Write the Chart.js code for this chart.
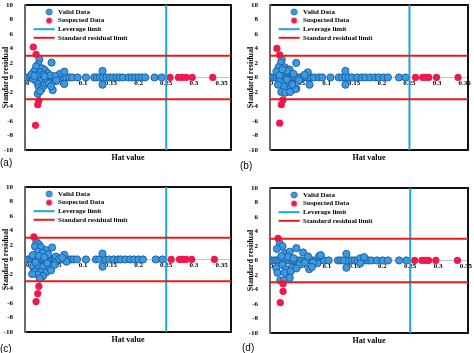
<!DOCTYPE html>
<html>
<head>
<meta charset="utf-8">
<script src="https://cdn.jsdelivr.net/npm/chart.js@4.4.1/dist/chart.umd.min.js"></script>
<style>
  body { margin: 0; background: #fff; width: 474px; height: 353px; position: relative; overflow: hidden; }
  canvas { position: absolute; }
  .tag { position: absolute; font: 10px "Liberation Sans", Arial, sans-serif; color: #000; }
</style>
</head>
<body>
<canvas id="chartA" width="237" height="176" style="left:0;top:0"></canvas>
<canvas id="chartB" width="229" height="176" style="left:245px;top:0"></canvas>
<canvas id="chartC" width="237" height="176" style="left:0;top:182px"></canvas>
<canvas id="chartD" width="229" height="176" style="left:245px;top:183px"></canvas>
<div class="tag" style="left:0;top:157px">(a)</div>
<div class="tag" style="left:240px;top:160px">(b)</div>
<div class="tag" style="left:0;top:343px">(c)</div>
<div class="tag" style="left:242px;top:342px">(d)</div>
<script>

// ---- data ----

const X_TICKS = [0, 0.05, 0.1, 0.15, 0.2, 0.25, 0.3, 0.35];
const LEVERAGE_LIMIT = 0.25;
const RESIDUAL_LIMIT = 3;

// (a)
const validHatA = [
   0, 0.004, 0.008, 0.012, 0.016, 0.02, 0.024, 0.028, 0.032, 0.036, 0.04, 0.044, 0.048, 0.052,
   0.056, 0.06, 0.064, 0.069, 0.075, 0.08, 0.09, 0.105, 0.12, 0.125, 0.13, 0.136, 0.142, 0.148,
   0.154, 0.16, 0.166, 0.172, 0.182, 0.188, 0.194, 0.2, 0.206, 0.212, 0.229, 0.242,
   0.021, 0.043, 0.019, 0.015, 0.026, 0.031, 0.011, 0.022, 0.036, 0.007, 0.018, 0.028, 0.041,
   0.058, 0.066, 0.05, 0.014, 0.024, 0.033, 0.018, 0.029, 0.038, 0.02, 0.025, 0.045, 0.018,
   0.066, 0.052, 0.135, 0.135, 0.01, 0.042, 0.022, 0.03, 0.012
];
const validResA = [
   0, 0, 0, 0, 0, 0, 0, 0, 0, 0, 0, 0, 0, 0,
   0, 0, 0, 0, 0, 0, 0, 0, 0, 0, 0, 0, 0, 0,
   0, 0, 0, 0, 0, 0, 0, 0, 0, 0, 0, 0,
   2.5, 2.05, 1.8, 1.5, 1.25, 1.0, 0.8, 0.7, 0.6, 0.4, 0.3, 0.4, 0.3,
   0.5, 0.8, 0.2, -0.4, -0.5, -0.6, -0.9, -1.1, -0.8, -1.35, -1.6, -1.75, -2.25,
   -0.9, -0.4, 0.9, -1.0, -0.2, -1.2, -1.9, 0.15, 0.2
];
const suspHatA = [0.010, 0.015, 0.020, 0.018, 0.014, 0.257, 0.272, 0.279, 0.286, 0.297, 0.334];
const suspResA = [4.2, 3.2, -3.2, -3.75, -6.6, 0, 0, 0, 0, 0, 0];

// (b)
const validHatB = [
   0, 0.005, 0.009, 0.013, 0.017, 0.021, 0.025, 0.029, 0.033, 0.037, 0.041, 0.045, 0.05, 0.054,
   0.058, 0.063, 0.067, 0.072, 0.077, 0.086, 0.092, 0.107, 0.122, 0.128, 0.134, 0.14, 0.146,
   0.155, 0.164, 0.17, 0.179, 0.188, 0.194, 0.203, 0.211, 0.231, 0.243,
   0.019, 0.017, 0.045, 0.013, 0.024, 0.033, 0.009, 0.02, 0.028, 0.04, 0.066, 0.06, 0.015,
   0.015, 0.03, 0.022, 0.034, 0.018, 0.025, 0.045, 0.069, 0.043, 0.034, 0.012, 0.05,
   0.134, 0.134, 0.028, 0.038, 0.02
];
const validResB = [
   0, 0, 0, 0, 0, 0, 0, 0, 0, 0, 0, 0, 0, 0,
   0, 0, 0, 0, 0, 0, 0, 0, 0, 0, 0, 0, 0,
   0, 0, 0, 0, 0, 0, 0, 0, 0, 0,
   2.45, 2.0, 2.0, 1.4, 1.4, 1.1, 0.8, 0.7, 0.9, 0.5, 0.7, 0.35, 0.3,
   -0.6, -0.85, -1.3, -1.5, -2.0, -2.1, -1.55, -1.0, -1.6, -2.0, -1.0, -0.4,
   0.9, -1.0, -0.3, -1.0, 1.1
];
const suspHatB = [0.010, 0.015, 0.021, 0.018, 0.015, 0.261, 0.274, 0.279, 0.285, 0.299, 0.338];
const suspResB = [4.0, 3.1, -3.1, -3.75, -6.3, 0, 0, 0, 0, 0, 0];

// (c)
const validHatC = [
   0, 0.004, 0.008, 0.012, 0.016, 0.02, 0.024, 0.028, 0.032, 0.036, 0.04, 0.044, 0.048, 0.053,
   0.058, 0.063, 0.068, 0.073, 0.078, 0.083, 0.089, 0.105, 0.123, 0.129, 0.14, 0.147, 0.155,
   0.163, 0.168, 0.176, 0.185, 0.192, 0.2, 0.208, 0.231, 0.243,
   0.0155, 0.02, 0.013, 0.024, 0.044, 0.033, 0.018, 0.027, 0.009, 0.037, 0.02, 0.03, 0.051,
   0.066, 0.05, 0.057, 0.0095, 0.018, 0.028, 0.039, 0.048, 0.012, 0.024, 0.033, 0.018,
   0.0275, 0.0215, 0.014, 0.035, 0.135, 0.135, 0.042, 0.07, 0.062, 0.008
];
const validResC = [
   0, 0, 0, 0, 0, 0, 0, 0, 0, 0, 0, 0, 0, 0,
   0, 0, 0, 0, 0, 0, 0, 0, 0, 0, 0, 0, 0,
   0, 0, 0, 0, 0, 0, 0, 0, 0,
   2.4, 2.1, 1.8, 1.7, 1.65, 1.3, 1.1, 0.9, 0.6, 0.7, 0.5, 0.3, 0.4,
   0.65, -0.4, 0.1, -1.0, -0.8, -1.0, -1.2, -0.75, -1.65, -1.7, -1.8, -2.1,
   -2.3, -2.65, -0.4, -0.5, 0.8, -1.0, -1.5, -0.3, 0.25, -2.0
];
const suspHatC = [0.011, 0.020, 0.018, 0.015, 0.259, 0.274, 0.280, 0.286, 0.296, 0.337];
const suspResC = [3.1, -3.7, -4.7, -5.8, 0, 0, 0, 0, 0, 0];

// (d)
const validHatD = [
   0, 0.005, 0.009, 0.013, 0.018, 0.022, 0.027, 0.031, 0.036, 0.04, 0.045, 0.05, 0.054, 0.06,
   0.065, 0.07, 0.075, 0.08, 0.087, 0.095, 0.103, 0.12, 0.125, 0.13, 0.14, 0.145, 0.15, 0.155,
   0.165, 0.17, 0.175, 0.18, 0.19, 0.2, 0.21, 0.23, 0.243,
   0.015, 0.02, 0.01, 0.045, 0.024, 0.033, 0.057, 0.066, 0.086, 0.089, 0.03, 0.04, 0.018,
   0.083, 0.075, 0.009, 0.02, 0.026, 0.037, 0.05, 0.011, 0.024, 0.035, 0.033, 0.016,
   0.022, 0.068, 0.073, 0.135, 0.135, 0.16, 0.16, 0.167, 0.045, 0.06
];
const validResD = [
   0, 0, 0, 0, 0, 0, 0, 0, 0, 0, 0, 0, 0, 0,
   0, 0, 0, 0, 0, 0, 0, 0, 0, 0, 0, 0, 0, 0,
   0, 0, 0, 0, 0, 0, 0, 0, 0,
   2.35, 1.95, 1.6, 1.7, 1.0, 1.2, 1.1, 0.55, 0.6, 0.75, 0.5, 0.3, 0.6,
   -0.4, -0.3, -1.05, -0.6, -1.2, -1.0, -0.6, -1.7, -1.7, -1.5, -2.4, -2.75,
   -2.75, -1.2, -0.9, 0.9, -1.0, 0.3, -0.4, 0.45, -1.1, -0.3
];
const suspHatD = [0.012, 0.021, 0.021, 0.016, 0.258, 0.271, 0.277, 0.283, 0.296, 0.335];
const suspResD = [3.05, -3.2, -4.25, -5.8, 0, 0, 0, 0, 0, 0];

// ---- drawing ----

const SERIF = '"Liberation Serif", "Times New Roman", serif';
const BLUE_FILL = '#3a9ae2';
const BLUE_EDGE = '#1c5c9c';
const RED_DOT = '#ee1a4c';
const RED_LINE = '#e81c1c';
const CYAN_LINE = '#1ba5d9';

function toPoints(xs, ys){
   return xs.map((x, i) => ({ x: x, y: ys[i] }));
}

// legend symbol for the two point series (circle sits right of centre, like the figure)
function legendDot(fill, edge){
   let c = document.createElement('canvas');
   c.width = 21;
   c.height = 8;
   let g = c.getContext('2d');
   g.beginPath();
   g.arc(15.5, 4, 3, 0, Math.PI * 2);
   g.fillStyle = fill;
   g.fill();
   if(edge){
      g.lineWidth = 0.8;
      g.strokeStyle = edge;
      g.stroke();
   }
   return c;
}

const dotValid = legendDot(BLUE_FILL, BLUE_EDGE);
const dotSusp = legendDot(RED_DOT, null);

const framePlugin = {
   id: 'frame',
   afterLayout(chart){
      let a = chart.chartArea;
      if(chart.legend){
         chart.legend.left = a.left + 7;
         chart.legend.top = a.top + 2;
      }
   },
   beforeDatasetsDraw(chart){
      let ctx = chart.ctx, a = chart.chartArea;
      ctx.save();
      ctx.lineWidth = 2;
      ctx.strokeStyle = '#111';
      ctx.beginPath();
      ctx.moveTo(a.left, a.top);
      ctx.lineTo(a.right, a.top);
      ctx.lineTo(a.right, a.bottom);
      ctx.lineTo(a.left, a.bottom);
      ctx.stroke();
      ctx.strokeStyle = '#6a6a6a';
      ctx.beginPath();
      ctx.moveTo(a.left, a.top - 1);
      ctx.lineTo(a.left, a.bottom + 1);
      ctx.stroke();
      ctx.restore();
   }
};

function makeChart(id, xMin, xMax, vHat, vRes, sHat, sRes){

   let boldFont = size => ({ family: SERIF, size: size, weight: 'bold' });

   return new Chart(document.getElementById(id), {

      type: 'scatter',

      data: {
         datasets: [
            {
               label: 'Valid Data',
               data: toPoints(vHat, vRes),
               backgroundColor: BLUE_FILL,
               borderColor: BLUE_EDGE,
               borderWidth: 0.9,
               pointRadius: 3.6,
               order: 3
            },
            {
               label: 'Suspected Data',
               data: toPoints(sHat, sRes),
               backgroundColor: RED_DOT,
               borderColor: RED_DOT,
               borderWidth: 0,
               pointRadius: 3.6,
               order: 2
            },
            {
               label: 'Leverage limit',
               data: [{ x: LEVERAGE_LIMIT, y: -10 }, { x: LEVERAGE_LIMIT, y: 10 }],
               showLine: true,
               borderColor: CYAN_LINE,
               backgroundColor: CYAN_LINE,
               borderWidth: 2,
               pointRadius: 0,
               pointStyle: 'line',
               order: 1
            },
            {
               label: 'Standard residual limit',
               data: [{ x: xMin, y: RESIDUAL_LIMIT }, { x: xMax, y: RESIDUAL_LIMIT }],
               showLine: true,
               borderColor: RED_LINE,
               backgroundColor: RED_LINE,
               borderWidth: 2,
               pointRadius: 0,
               pointStyle: 'line',
               order: 0
            },
            {
               label: '',
               data: [{ x: xMin, y: -RESIDUAL_LIMIT }, { x: xMax, y: -RESIDUAL_LIMIT }],
               showLine: true,
               borderColor: RED_LINE,
               borderWidth: 2,
               pointRadius: 0,
               order: 0
            }
         ]
      },

      options: {
         responsive: false,
         animation: false,
         events: [],
         layout: { padding: { left: 0, top: 3, right: 6, bottom: 0 } },

         plugins: {
            tooltip: { enabled: false },
            legend: {
               position: 'chartArea',
               align: 'start',
               labels: {
                  usePointStyle: true,
                  pointStyleWidth: 21,
                  boxHeight: 7,
                  padding: 1.6,
                  color: '#000',
                  font: boldFont(7),
                  filter: item => item.text !== '',
                  sort: (a, b) => a.datasetIndex - b.datasetIndex,
                  generateLabels(chart){
                     let items = Chart.defaults.plugins.legend.labels.generateLabels(chart);
                     items.forEach(it => {
                        if(it.datasetIndex === 0) it.pointStyle = dotValid;
                        if(it.datasetIndex === 1) it.pointStyle = dotSusp;
                     });
                     return items;
                  }
               }
            }
         },

         scales: {
            x: {
               type: 'linear',
               position: { y: 0 },
               min: xMin,
               max: xMax,
               grid: { color: 'rgba(0,0,0,0)', drawTicks: false },
               border: { display: true, color: '#c4c4c4', width: 1 },
               ticks: {
                  padding: 2,
                  autoSkip: false,
                  maxRotation: 0,
                  color: '#000',
                  font: boldFont(7),
                  callback: v => String(+v.toFixed(3))
               },
               afterBuildTicks(s){
                  s.ticks = X_TICKS.map(v => ({ value: v }));
               },
               afterFit(s){
                  s.paddingLeft = 0;
                  s.paddingRight = 0;
               }
            },
            x2: {
               type: 'linear',
               position: 'bottom',
               min: xMin,
               max: xMax,
               grid: { display: false },
               border: { display: false },
               ticks: { display: false },
               title: {
                  display: true,
                  text: 'Hat value',
                  color: '#000',
                  font: boldFont(8),
                  padding: { top: 0, bottom: 13 }
               },
               afterFit(s){
                  s.height = 26;
                  s.paddingLeft = 0;
                  s.paddingRight = 0;
               }
            },
            y: {
               min: -10,
               max: 10,
               grid: { display: false },
               border: { display: false },
               ticks: {
                  stepSize: 2,
                  padding: 4,
                  color: '#000',
                  font: boldFont(7)
               },
               title: {
                  display: true,
                  text: 'Standard residual',
                  color: '#000',
                  font: boldFont(8),
                  padding: { top: 1, bottom: 0 }
               },
               afterFit(s){
                  s.width = 25;
                  s.paddingTop = 0;
                  s.paddingBottom = 0;
               }
            }
         }
      },

      plugins: [framePlugin]

   });

}

makeChart('chartA', -0.005, 0.367, validHatA, validResA, suspHatA, suspResA);
makeChart('chartB', -0.0025, 0.356, validHatB, validResB, suspHatB, suspResB);
makeChart('chartC', -0.005, 0.367, validHatC, validResC, suspHatC, suspResC);
makeChart('chartD', -0.0025, 0.354, validHatD, validResD, suspHatD, suspResD);

</script>
</body>
</html>
